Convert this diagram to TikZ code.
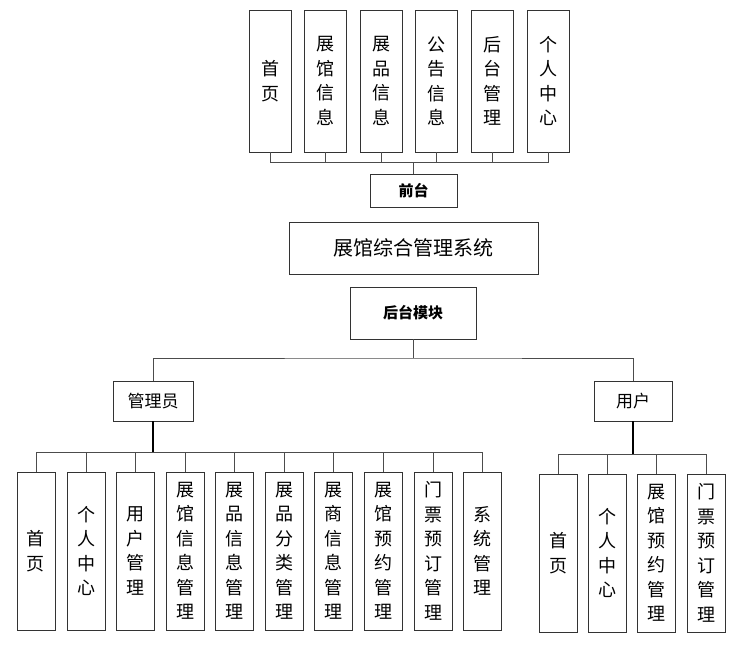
\documentclass[tikz,border=0pt]{standalone}
\usepackage{fontspec}
\newfontfamily\cjk{Noto Sans CJK SC}
\begin{document}
\begin{tikzpicture}[x=1pt,y=-1pt,
  bx/.style={draw=black!80,line width=0.8pt,fill=white,inner sep=0pt,font=\cjk\fontsize{18}{24.5}\selectfont,align=center},
  col/.style={bx,minimum width=38pt},
  ln/.style={draw=black!70,line width=0.8pt}]
\useasboundingbox (0,0) rectangle (741,645);
% top
\foreach \n/\x/\t in {t1/270/首\\页, t2/325/展\\馆\\信\\息, t3/381.5/展\\品\\信\\息, t4/436.5/公\\告\\信\\息, t5/492.5/后\\台\\管\\理, t6/548/个\\人\\中\\心}
  \node[col,minimum width=42pt,minimum height=142pt] (\n) at (\x,81) {\t};
\node[bx,minimum width=87pt,minimum height=33pt,font=\cjk\bfseries\fontsize{15}{16}\selectfont] (qt) at (413.5,190.5) {前台};
\node[bx,minimum width=249pt,minimum height=52pt,font=\cjk\fontsize{20}{22}\selectfont] (sys) at (413.5,248) {展馆综合管理系统};
\node[bx,minimum width=126pt,minimum height=52pt,font=\cjk\bfseries\fontsize{15}{16}\selectfont] (ht) at (413,313) {后台模块};
\coordinate (tb) at (413.5,162);
\foreach \n in {t1,t2,t3,t4,t5,t6} \draw[ln] (\n.south) |- (tb);
\draw[ln] (tb) -- (qt.north);
\node[bx,minimum width=80pt,minimum height=40pt,font=\cjk\fontsize{17}{18}\selectfont] (gl) at (153,401) {管理员};
\node[bx,minimum width=78pt,minimum height=40pt,font=\cjk\fontsize{17}{18}\selectfont] (yh) at (633,401) {用户};
\coordinate (mb) at (413,358);
\draw[ln] (ht.south) -- (mb);
\draw[ln] (gl.north) |- (mb) -| (yh.north);
% admin
\coordinate (ab) at (153,452);
\draw[line width=1.2pt] (gl.south) -- (ab);
\foreach \n/\x/\t in {a1/36/首\\页, a2/86/个\\人\\中\\心, a3/135/用\\户\\管\\理, a4/185/展\\馆\\信\\息\\管\\理, a5/234/展\\品\\信\\息\\管\\理, a6/284/展\\品\\分\\类\\管\\理, a7/333/展\\商\\信\\息\\管\\理, a8/383/展\\馆\\预\\约\\管\\理, a9/433/门\\票\\预\\订\\管\\理, a10/482/系\\统\\管\\理}
  {\node[col,minimum height=158pt] (\n) at (\x,551) {\t};
   \draw[ln] (\n.north) |- (ab);}
% user
\coordinate (ub) at (633,454);
\draw[line width=1.2pt] (yh.south) -- (ub);
\foreach \n/\x/\t in {u1/558/首\\页, u2/607/个\\人\\中\\心, u3/656.5/展\\馆\\预\\约\\管\\理, u4/706/门\\票\\预\\订\\管\\理}
  {\node[col,minimum height=158pt] (\n) at (\x,553) {\t};
   \draw[ln] (\n.north) |- (ub);}
\end{tikzpicture}
\end{document}
